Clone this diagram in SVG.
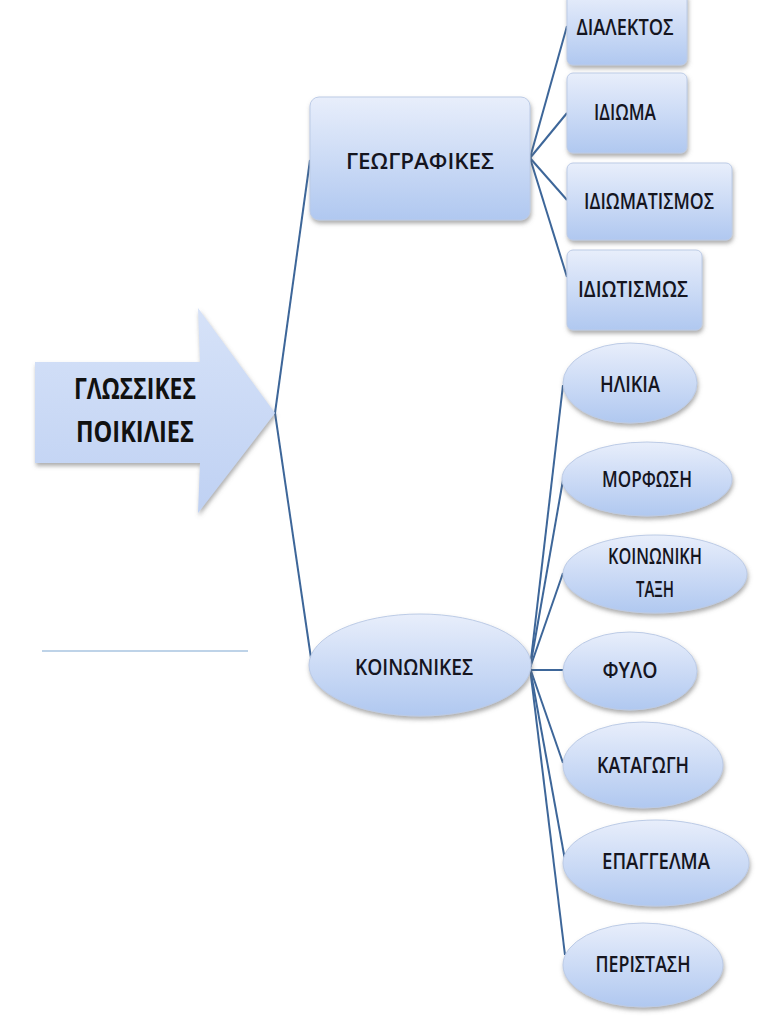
<svg xmlns="http://www.w3.org/2000/svg" width="768" height="1024" viewBox="0 0 768 1024">
<defs>
<linearGradient id="g" x1="0" y1="0" x2="0" y2="1">
<stop offset="0" stop-color="#e8eefb"/>
<stop offset="1" stop-color="#b0c8f0"/>
</linearGradient>
<linearGradient id="ga" x1="0" y1="0" x2="0" y2="1">
<stop offset="0" stop-color="#d6e2f8"/>
<stop offset="1" stop-color="#bfd1f3"/>
</linearGradient>
<filter id="sh" x="-20%" y="-20%" width="140%" height="150%">
<feDropShadow dx="1" dy="3" stdDeviation="2" flood-color="#6b6b6b" flood-opacity="0.55"/>
</filter>
</defs>
<style>
.n{fill:url(#g);stroke:#bccbe6;stroke-width:1;filter:url(#sh)}
.t{font-family:"Open Sans","Liberation Sans",sans-serif;font-size:21px;font-weight:600;fill:#15151f;text-anchor:middle}
.b{font-family:"Open Sans","Liberation Sans",sans-serif;font-size:28px;font-weight:bold;fill:#111111;text-anchor:middle}
.c{stroke:#3d6699;stroke-width:2;fill:none}
</style>
<rect width="768" height="1024" fill="#ffffff"/>
<line x1="42" y1="651" x2="248" y2="651" stroke="#a9c4e0" stroke-width="1.5"/>
<g id="connectors">
<path class="c" d="M275 413 L310 160"/>
<path class="c" d="M275 413 L312 665"/>
<path class="c" d="M530 158 L567 26"/>
<path class="c" d="M530 158 L567 113"/>
<path class="c" d="M530 158 L567 200"/>
<path class="c" d="M530 158 L567 277"/>
<path class="c" d="M530 668 L563 385"/>
<path class="c" d="M530 668 L563 480"/>
<path class="c" d="M530 668 L563 573"/>
<path class="c" d="M530 670 L563 670"/>
<path class="c" d="M530 668 L563 763"/>
<path class="c" d="M530 668 L565 860"/>
<path class="c" d="M530 668 L565 955"/>
</g>
<g id="root">
<polygon points="35,362 200,362 198,308 275,413 198,513 200,463 35,463" fill="url(#ga)" filter="url(#sh)"/>
<text class="b" x="135" y="399" textLength="122" lengthAdjust="spacingAndGlyphs">ΓΛΩΣΣΙΚΕΣ</text>
<text class="b" x="135" y="442" textLength="118" lengthAdjust="spacingAndGlyphs">ΠΟΙΚΙΛΙΕΣ</text>
</g>
<g id="geo">
<rect class="n" x="310" y="97" width="220" height="123" rx="9"/>
<text class="t" x="420" y="169" textLength="148" lengthAdjust="spacingAndGlyphs">ΓΕΩΓΡΑΦΙΚΕΣ</text>
</g>
<g id="koin">
<ellipse class="n" cx="420" cy="665" rx="111" ry="51"/>
<text class="t" x="414" y="675" textLength="118" lengthAdjust="spacingAndGlyphs">ΚΟΙΝΩΝΙΚΕΣ</text>
</g>
<g id="dialektos">
<rect class="n" x="567" y="-8" width="120" height="73" rx="6"/>
<text class="t" x="625" y="35" textLength="97" lengthAdjust="spacingAndGlyphs">ΔΙΑΛΕΚΤΟΣ</text>
</g>
<g id="idioma">
<rect class="n" x="567" y="73" width="120" height="80" rx="6"/>
<text class="t" x="625" y="120" textLength="62" lengthAdjust="spacingAndGlyphs">ΙΔΙΩΜΑ</text>
</g>
<g id="idiomatismos">
<rect class="n" x="567" y="163" width="165" height="77" rx="6"/>
<text class="t" x="649" y="209" textLength="130" lengthAdjust="spacingAndGlyphs">ΙΔΙΩΜΑΤΙΣΜΟΣ</text>
</g>
<g id="idiotismos">
<rect class="n" x="567" y="250" width="135" height="80" rx="6"/>
<text class="t" x="633" y="297" textLength="110" lengthAdjust="spacingAndGlyphs">ΙΔΙΩΤΙΣΜΩΣ</text>
</g>
<g id="ilikia">
<ellipse class="n" cx="630" cy="383" rx="67" ry="40"/>
<text class="t" x="630" y="392" textLength="60" lengthAdjust="spacingAndGlyphs">ΗΛΙΚΙΑ</text>
</g>
<g id="morfosi">
<ellipse class="n" cx="647" cy="479" rx="85" ry="37"/>
<text class="t" x="647" y="487" textLength="90" lengthAdjust="spacingAndGlyphs">ΜΟΡΦΩΣΗ</text>
</g>
<g id="taxi">
<ellipse class="n" cx="655" cy="574" rx="92" ry="39"/>
<text class="t" x="655" y="564" textLength="94" lengthAdjust="spacingAndGlyphs">ΚΟΙΝΩΝΙΚΗ</text>
<text class="t" x="655" y="597" textLength="38" lengthAdjust="spacingAndGlyphs">ΤΑΞΗ</text>
</g>
<g id="fylo">
<ellipse class="n" cx="630" cy="671" rx="67" ry="39"/>
<text class="t" x="630" y="678" textLength="55" lengthAdjust="spacingAndGlyphs">ΦΥΛΟ</text>
</g>
<g id="katagogi">
<ellipse class="n" cx="643" cy="765" rx="80" ry="43"/>
<text class="t" x="643" y="773" textLength="92" lengthAdjust="spacingAndGlyphs">ΚΑΤΑΓΩΓΗ</text>
</g>
<g id="epaggelma">
<ellipse class="n" cx="656" cy="863" rx="93" ry="43"/>
<text class="t" x="656" y="869" textLength="108" lengthAdjust="spacingAndGlyphs">ΕΠΑΓΓΕΛΜΑ</text>
</g>
<g id="peristasi">
<ellipse class="n" cx="643" cy="965" rx="80" ry="42"/>
<text class="t" x="643" y="972" textLength="95" lengthAdjust="spacingAndGlyphs">ΠΕΡΙΣΤΑΣΗ</text>
</g>
</svg>
